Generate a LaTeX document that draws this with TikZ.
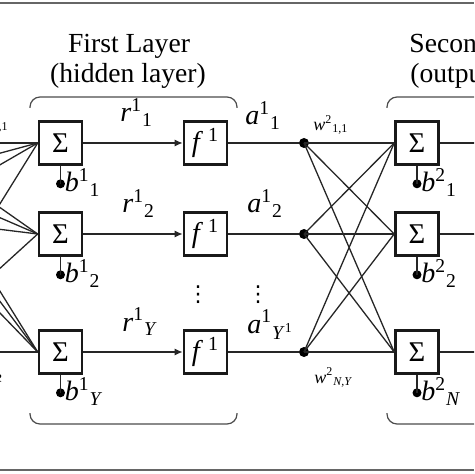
\documentclass[tikz,border=0pt]{standalone}
\usepackage{fontspec}
\setmainfont{Liberation Serif}
\newfontfamily\dotsfont{DejaVu Sans}
\usetikzlibrary{arrows.meta,calc}
\begin{document}
\begin{tikzpicture}[x=0.5pt,y=-0.5pt,
  box/.style={draw=black!90,line width=1.3pt,minimum width=21.5pt,minimum height=21.5pt,inner sep=0pt,font=\fontsize{14.3}{16}\selectfont,fill=white},
  conn/.style={line width=0.65pt,draw=black!85},
  arr/.style={conn,-{Latex[length=4pt,width=3.5pt]}},
  dot/.style={circle,fill=black,inner sep=0pt,minimum size=5pt},
  bdot/.style={circle,fill=black,inner sep=0pt,minimum size=4.5pt},
  lbl/.style={font=\fontsize{14}{16}\selectfont,inner sep=0pt},
  slbl/.style={font=\fontsize{9}{11}\selectfont,inner sep=0pt},
  ttl/.style={font=\fontsize{13.8}{16}\selectfont,inner sep=0pt},
  vdot/.style={font=\dotsfont\fontsize{11}{13}\selectfont,inner sep=0pt},
  bracket/.style={line width=0.6pt,draw=black!70,rounded corners=5pt},
  framel/.style={line width=1pt,draw=black!60}]
\useasboundingbox (0,0) rectangle (474,474);
\clip (0,0) rectangle (474,474);

% frame lines
\coordinate (fl1) at (0,3); \coordinate (fr1) at (474,3);
\coordinate (fl2) at (0,470); \coordinate (fr2) at (474,470);
\draw[framel] (fl1) -- (fr1);
\draw[framel] (fl2) -- (fr2);

% titles
\node[ttl,anchor=base] (t1a) at (129,53) {First Layer};
\node[ttl,anchor=base] (t1b) at (128,83) {(hidden layer)};
\node[ttl,anchor=base west] (t2a) at (409,53) {Second Layer};
\node[ttl,anchor=base west] (t2b) at (410,83) {(output layer)};

% brackets
\draw[bracket] (30,108) -- (30,97) -- (237,97) -- (237,108);
\draw[bracket] (30,413) -- (30,424) -- (237,424) -- (237,413);
\draw[bracket] (387,108) -- (387,97) -- (520,97);
\draw[bracket] (387,413) -- (387,424) -- (520,424);

% input coordinates (off picture)
\coordinate (in1) at (-92,143);
\coordinate (in2) at (-92,178);
\coordinate (in3) at (-92,218);
\coordinate (in4) at (-92,352);

% first layer boxes
\node[box] (s1) at (60.5,143) {Σ};
\node[box] (s2) at (60.5,234) {Σ};
\node[box] (s3) at (60.5,352) {Σ};
\node[box] (f1) at (205.5,143) {\textit{f}\,\textsuperscript{1}};
\node[box] (f2) at (205.5,234) {\textit{f}\,\textsuperscript{1}};
\node[box] (f3) at (205.5,352) {\textit{f}\,\textsuperscript{1}};

% second layer boxes
\node[box] (u1) at (417,143) {Σ};
\node[box] (u2) at (417,234) {Σ};
\node[box] (u3) at (417,352) {Σ};

% dots
\node[dot] (d1) at (304,143) {};
\node[dot] (d2) at (304,234) {};
\node[dot] (d3) at (304,352) {};

% output coordinates
\coordinate (o1) at (490,143);
\coordinate (o2) at (490,234);
\coordinate (o3) at (490,352);

% input connections
\foreach \i in {in1,in2,in3,in4}{
  \foreach \s in {s1,s2,s3}{
    \draw[conn] (\i) -- (\s.west);
  }
}

% sigma -> f
\draw[arr] (s1.east) -- (f1.west);
\draw[arr] (s2.east) -- (f2.west);
\draw[arr] (s3.east) -- (f3.west);
% f -> dot
\draw[conn] (f1.east) -- (d1);
\draw[conn] (f2.east) -- (d2);
\draw[conn] (f3.east) -- (d3);
% dot -> second layer
\foreach \d in {d1,d2,d3}{
  \foreach \u in {u1,u2,u3}{
    \draw[conn] (\d.center) -- (\u.west);
  }
}
% outputs
\draw[conn] (u1.east) -- (o1);
\draw[conn] (u2.east) -- (o2);
\draw[conn] (u3.east) -- (o3);

% biases first layer
\node[bdot] (bd1) at ($(s1.south)+(0,18)$) {};
\node[bdot] (bd2) at ($(s2.south)+(0,18)$) {};
\node[bdot] (bd3) at ($(s3.south)+(0,18)$) {};
\draw[conn] (s1.south) -- (bd1.center);
\draw[conn] (s2.south) -- (bd2.center);
\draw[conn] (s3.south) -- (bd3.center);
\node[lbl,anchor=base west] (bl1) at ($(bd1)+(4,8)$) {\textit{b}\textsuperscript{1}\textsubscript{1}};
\node[lbl,anchor=base west] (bl2) at ($(bd2)+(4,8)$) {\textit{b}\textsuperscript{1}\textsubscript{2}};
\node[lbl,anchor=base west] (bl3) at ($(bd3)+(4,8)$) {\textit{b}\textsuperscript{1}\textsubscript{\textit{Y}}};

% biases second layer
\node[bdot] (be1) at ($(u1.south)+(0,18)$) {};
\node[bdot] (be2) at ($(u2.south)+(0,18)$) {};
\node[bdot] (be3) at ($(u3.south)+(0,18)$) {};
\draw[conn] (u1.south) -- (be1.center);
\draw[conn] (u2.south) -- (be2.center);
\draw[conn] (u3.south) -- (be3.center);
\node[lbl,anchor=base west] (bm1) at ($(be1)+(4,8)$) {\textit{b}\textsuperscript{2}\textsubscript{1}};
\node[lbl,anchor=base west] (bm2) at ($(be2)+(4,8)$) {\textit{b}\textsuperscript{2}\textsubscript{2}};
\node[lbl,anchor=base west] (bm3) at ($(be3)+(4,8)$) {\textit{b}\textsuperscript{2}\textsubscript{\textit{N}}};

% r labels
\node[lbl,anchor=base west] (r1) at (120,122) {\textit{r}\textsuperscript{1}\textsubscript{1}};
\node[lbl,anchor=base west] (r2) at (122,213) {\textit{r}\textsuperscript{1}\textsubscript{2}};
\node[lbl,anchor=base west] (r3) at (122,331) {\textit{r}\textsuperscript{1}\textsubscript{\textit{Y}}};

% a labels
\node[lbl,anchor=base west] (a1) at (245,125) {\textit{a}\textsuperscript{1}\textsubscript{1}};
\node[lbl,anchor=base west] (a2) at (247,213) {\textit{a}\textsuperscript{1}\textsubscript{2}};
\node[lbl,anchor=base west] (a3) at (247,333) {\textit{a}\textsuperscript{1}\textsubscript{\textit{Y}\textsuperscript{1}}};

% weight labels
\node[slbl,anchor=base west] (w21) at (313,131) {\textit{w}\textsuperscript{2}\textsubscript{1,1}};
\node[slbl,anchor=base west] (w2n) at (314,383) {\textit{w}\textsuperscript{2}\textsubscript{\textit{N,Y}}};
\node[slbl,anchor=base east] (w11) at (9,129) {\textit{w}\textsuperscript{1}\textsubscript{1,1}};
\node[slbl,anchor=base east] (w1n) at (3,380) {\textit{w}\textsuperscript{1}\textsubscript{\textit{S,R}}};

% vertical dots
\node[vdot] (vd1) at (198,295) {⋮};
\node[vdot] (vd2) at (258,295) {⋮};
\end{tikzpicture}
\end{document}
